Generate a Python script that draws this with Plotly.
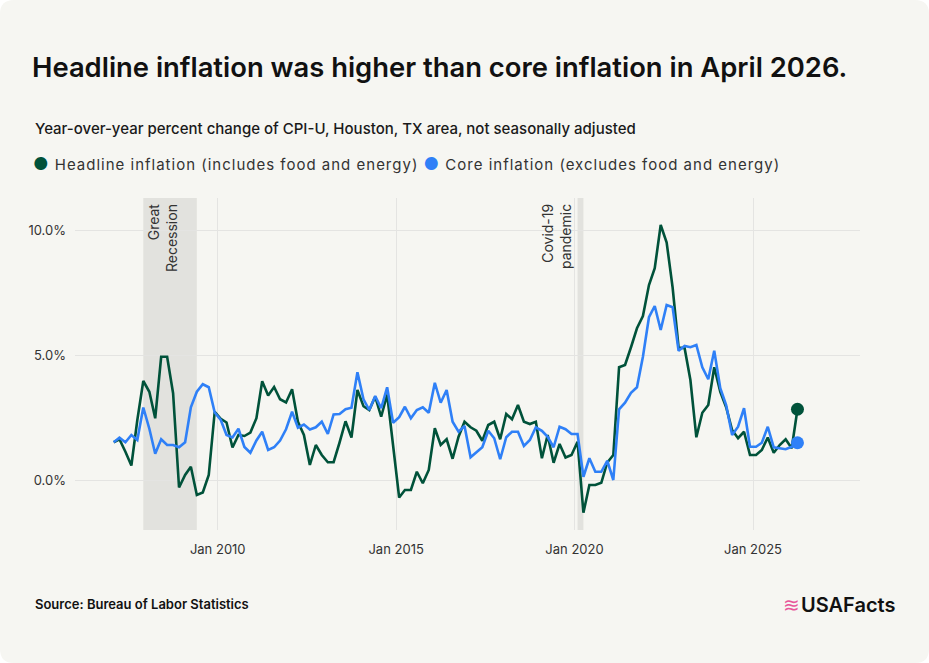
import pandas as pd
import plotly.graph_objects as go

# Bimonthly observations, Feb 2007 - Apr 2026
dates = pd.date_range("2007-02-01", periods=116, freq="2MS")

headline = [
    1.51, 1.63, 1.13, 0.58, 2.4, 3.96, 3.53, 2.47, 4.93, 4.93,
    3.47, -0.3, 0.2, 0.53, -0.6, -0.5, 0.2, 2.73, 2.45, 2.3,
    1.3, 1.8, 1.76, 1.9, 2.47, 3.95, 3.38, 3.72, 3.23, 3.1,
    3.63, 2.33, 1.8, 0.6, 1.4, 1.0, 0.71, 0.71, 1.5, 2.35,
    1.7, 3.6, 2.95, 2.8, 3.33, 2.53, 3.42, 1.25, -0.7, -0.4,
    -0.4, 0.33, -0.13, 0.4, 2.07, 1.4, 1.63, 0.85, 1.73, 2.33,
    2.11, 1.97, 1.57, 2.2, 2.33, 1.63, 2.64, 2.43, 3.0, 2.33,
    2.24, 2.33, 0.87, 1.8, 0.69, 1.44, 0.9, 1.0, 1.53, -1.31,
    -0.2, -0.2, -0.11, 0.7, 1.0, 4.51, 4.6, 5.31, 6.07, 6.56,
    7.8, 8.47, 10.2, 9.5, 7.7, 5.3, 5.27, 4.0, 1.71, 2.69,
    3.0, 4.51, 3.53, 2.91, 2.0, 1.67, 1.93, 1.0, 1.0, 1.2,
    1.7, 1.09, 1.4, 1.63, 1.27, 2.83,
]

core = [
    1.51, 1.69, 1.51, 1.8, 1.6, 2.9, 2.05, 1.05, 1.63, 1.4,
    1.4, 1.31, 1.51, 2.91, 3.53, 3.83, 3.71, 2.7, 2.4, 1.8,
    1.7, 2.05, 1.32, 1.09, 1.58, 1.93, 1.2, 1.31, 1.58, 2.03,
    2.73, 2.09, 2.22, 2.02, 2.11, 2.33, 1.84, 2.62, 2.64, 2.83,
    2.89, 4.31, 3.23, 2.8, 3.36, 2.87, 3.71, 2.29, 2.51, 2.93,
    2.47, 2.8, 2.91, 2.69, 3.89, 3.09, 3.6, 2.33, 1.93, 2.16,
    0.91, 1.09, 1.31, 1.97, 1.67, 0.83, 1.71, 1.93, 1.93, 1.36,
    1.6, 2.11, 1.97, 1.73, 1.31, 2.13, 2.03, 1.84, 1.84, 0.13,
    0.87, 0.33, 0.33, 0.77, 0.0, 2.83, 3.09, 3.49, 3.71, 4.93,
    6.51, 6.96, 6.0, 7.0, 6.91, 5.17, 5.36, 5.31, 5.4, 4.51,
    4.03, 5.17, 3.67, 3.0, 1.8, 2.13, 2.87, 1.33, 1.33, 1.49,
    2.13, 1.31, 1.27, 1.23, 1.33, 1.49,
]

recessions = [
    ("2007-12-01", "2009-06-01", "Great<br>Recession", "2008-06-10"),
    ("2020-02-01", "2020-04-01", "Covid-19<br>pandemic", "2019-07-01"),
]

GREEN = "#00523a"
BLUE = "#2f80f7"
CARD = "#f6f6f2"
SHADE = "#e2e2de"
FONT = "Inter"

# plot area in pixels
L, R, T, B = 75, 860, 198, 530
W, H = 929, 663


def px(xp):
    return (xp - L) / (R - L)


def py(yp):
    return (B - yp) / (B - T)


fig = go.Figure()

fig.add_trace(go.Scatter(x=dates, y=headline, mode="lines",
                         line=dict(color=GREEN, width=2.6),
                         name="Headline", showlegend=False))
fig.add_trace(go.Scatter(x=dates, y=core, mode="lines",
                         line=dict(color=BLUE, width=2.6),
                         name="Core", showlegend=False))
fig.add_trace(go.Scatter(x=[dates[-1]], y=[headline[-1]], mode="markers",
                         marker=dict(color=GREEN, size=13), showlegend=False))
fig.add_trace(go.Scatter(x=[dates[-1]], y=[core[-1]], mode="markers",
                         marker=dict(color=BLUE, size=13), showlegend=False))

shapes = []
# rounded card
r = 14
x0, x1, y0, y1 = 0, W, 0, H
path = (
    f"M {px(x0 + r)},{py(y0)} L {px(x1 - r)},{py(y0)} "
    f"Q {px(x1)},{py(y0)} {px(x1)},{py(y0 + r)} "
    f"L {px(x1)},{py(y1 - r)} Q {px(x1)},{py(y1)} {px(x1 - r)},{py(y1)} "
    f"L {px(x0 + r)},{py(y1)} Q {px(x0)},{py(y1)} {px(x0)},{py(y1 - r)} "
    f"L {px(x0)},{py(y0 + r)} Q {px(x0)},{py(y0)} {px(x0 + r)},{py(y0)} Z"
)
shapes.append(dict(type="path", xref="paper", yref="paper", path=path,
                   fillcolor=CARD, line=dict(width=0), layer="below"))

annotations = []
for s, e, label, lx in recessions:
    shapes.append(dict(type="rect", xref="x", yref="paper", x0=s, x1=e,
                       y0=0, y1=1, fillcolor=SHADE, line=dict(width=0),
                       layer="below"))
    annotations.append(dict(x=lx, xref="x", y=1, yref="paper",
                            xanchor="center", yanchor="top", yshift=-4,
                            text=label, textangle=-90, align="right",
                            showarrow=False,
                            font=dict(family=FONT, size=14, color="#333333")))

LS = "letter-spacing:1.0px"
annotations += [
    dict(x=px(33), y=py(128), xref="paper", yref="paper", xanchor="left",
         yanchor="middle", showarrow=False,
         text="Year-over-year percent change of CPI-U, Houston, TX area, not seasonally adjusted",
         font=dict(family=FONT, size=15, color="#1a1a1a", weight=500)),
    dict(x=px(31), y=py(164), xref="paper", yref="paper", xanchor="left",
         yanchor="middle", showarrow=False,
         text=(f"<span style='color:{GREEN};{LS};font-size:17px'>●</span>"
               f"<span style='{LS}'> Headline inflation (includes food and energy) </span>"
               f"<span style='color:{BLUE};{LS};font-size:17px'>●</span>"
               f"<span style='{LS}'> Core inflation (excludes food and energy)</span>"),
         font=dict(family=FONT, size=15, color="#333333")),
    dict(x=px(33), y=py(604), xref="paper", yref="paper", xanchor="left",
         yanchor="middle", showarrow=False,
         text="Source: Bureau of Labor Statistics",
         font=dict(family=FONT, size=13, color="#111111", weight=600)),
    dict(x=px(897), y=py(605), xref="paper", yref="paper", xanchor="right",
         yanchor="middle", showarrow=False,
         text="USAFacts",
         font=dict(family=FONT, size=20, color="#111111", weight=600)),
    dict(x=px(791), y=py(605), xref="paper", yref="paper", xanchor="center",
         yanchor="middle", showarrow=False,
         text="≋",
         font=dict(family=FONT, size=20, color="#e8559a")),
]

fig.update_layout(
    width=W, height=H,
    margin=dict(l=L, r=W - R, t=T, b=H - B, pad=0),
    paper_bgcolor="#ffffff",
    plot_bgcolor="rgba(0,0,0,0)",
    title=dict(text="Headline inflation was higher than core inflation in April 2026.",
               x=32 / W, xanchor="left", y=1 - 67 / H, yanchor="middle",
               font=dict(family=FONT, size=27.4, color="#111111", weight=600)),
    shapes=shapes,
    annotations=annotations,
    xaxis=dict(range=["2006-01-01", "2028-01-01"], type="date",
               tick0="2010-01-01", dtick="M60", tickformat="%b %Y",
               showgrid=True, gridcolor="#e4e4e2", gridwidth=1,
               zeroline=False, showline=False, ticks="",
               ticklabelstandoff=10,
               tickfont=dict(family=FONT, size=13, color="#333333")),
    yaxis=dict(range=[-2.0, 11.28], tick0=0, dtick=5,
               tickformat=".1f", ticksuffix="%",
               showgrid=True, gridcolor="#e4e4e2", gridwidth=1,
               zeroline=False, showline=False, ticks="",
               ticklabelstandoff=8,
               tickfont=dict(family=FONT, size=13, color="#333333")),
    hovermode=False,
)

fig.write_html("out.html")
